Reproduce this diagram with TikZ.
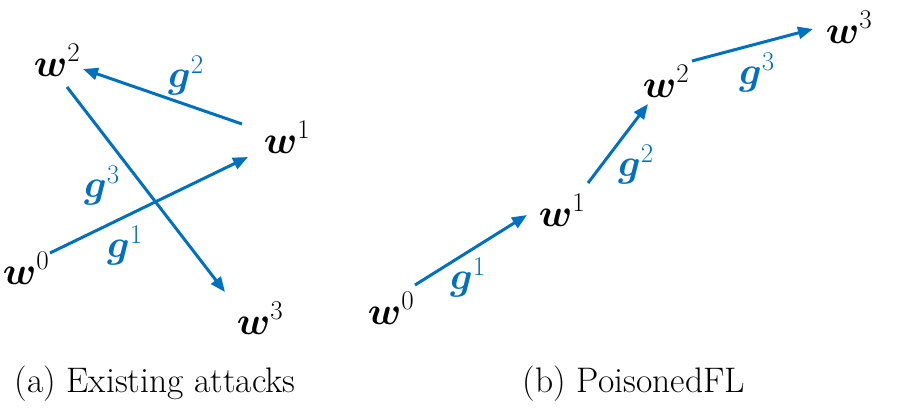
\RequirePackage{fix-cm}
\documentclass[tikz,border=0pt]{standalone}
\usepackage{amsmath}
\usepackage{bm}
\usetikzlibrary{arrows.meta,calc}
\definecolor{gblue}{RGB}{0,112,192}
\newcommand\supdig[1]{^{\text{\fontsize{27}{30}\selectfont #1}}}
\newcommand\wlab[1]{$\bm{w}\supdig{#1}$}
\newcommand\glab[1]{$\bm{g}\supdig{#1}$}
\tikzset{
  wnode/.style={inner sep=0pt, outer sep=0pt, font=\fontsize{39}{44}\selectfont},
  gnode/.style={inner sep=0pt, outer sep=0pt, text=gblue, font=\fontsize{39}{44}\selectfont},
  garrow/.style={draw=gblue, line width=3pt, -{Triangle[length=15pt,width=12pt]}},
  capnode/.style={inner sep=0pt, outer sep=0pt, font=\fontsize{35.5}{40}\selectfont}
}
\begin{document}
\begin{tikzpicture}[x=1pt,y=-1pt]
\useasboundingbox (0,0) rectangle (908,413);
% (a) Existing attacks
\node[wnode] (aw0) at (26,268) {\wlab{0}};
\node[wnode] (aw1) at (287,137) {\wlab{1}};
\node[wnode] (aw2) at (57,60) {\wlab{2}};
\node[wnode] (aw3) at (260,318) {\wlab{3}};
\draw[garrow] ($(aw0)+(24,-15)$) -- ($(aw1)+(-39,20)$);
\draw[garrow] ($(aw1)+(-45,-13)$) -- ($(aw2)+(26,9)$);
\draw[garrow] ($(aw2)+(10,27)$) -- ($(aw3)+(-35,-26)$);
\node[gnode] (ag1) at (125,245) {\glab{1}};
\node[gnode] (ag2) at (186,75) {\glab{2}};
\node[gnode] (ag3) at (102,185) {\glab{3}};
% (b) PoisonedFL
\node[wnode] (bw0) at (391,308) {\wlab{0}};
\node[wnode] (bw1) at (562,210) {\wlab{1}};
\node[wnode] (bw2) at (666,81) {\wlab{2}};
\node[wnode] (bw3) at (849,27) {\wlab{3}};
\draw[garrow] ($(bw0)+(24,-23)$) -- ($(bw1)+(-35,5)$);
\draw[garrow] ($(bw1)+(26,-27)$) -- ($(bw2)+(-18,23)$);
\draw[garrow] ($(bw2)+(26,-20)$) -- ($(bw3)+(-36,2)$);
\node[gnode] (bg1) at (468,277) {\glab{1}};
\node[gnode] (bg2) at (636,164) {\glab{2}};
\node[gnode] (bg3) at (757,72) {\glab{3}};
% captions
\node[capnode] (capa) at (155,384) {(a) Existing attacks};
\node[capnode] (capb) at (634,384) {(b) PoisonedFL};
\end{tikzpicture}
\end{document}
